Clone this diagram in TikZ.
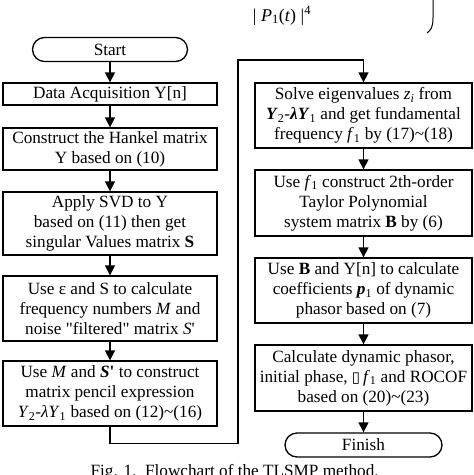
\documentclass[tikz,border=0pt]{standalone}
\usepackage{fontspec}
\setmainfont{Liberation Serif}
\newfontfamily\symfont{DejaVu Sans}
\usetikzlibrary{arrows.meta}

\begin{document}
\begin{tikzpicture}[x=1pt, y=-1pt, line width=1.3pt,
		box/.style={draw, inner sep=0pt, align=center, minimum width=214pt, font=\fontsize{17.2}{20}\selectfont},
		rbox/.style={box, minimum width=217pt},
		term/.style={draw, rounded corners=12pt, inner sep=0pt, minimum height=24pt, font=\fontsize{17.2}{20}\selectfont},
		arr/.style={-{Triangle[length=10pt, width=10pt]}}]
		\useasboundingbox (0,0) rectangle (474,475);
		
		% left column
		\node[term, minimum width=155pt] (start) at (110,49.5) {Start};
		\node[box, minimum height=22pt] (data) at (110,94) {Data Acquisition Y[n]};
		\node[box, minimum height=42pt] (hankel) at (110,149) {Construct the Hankel matrix\\Y based on (10)};
		\node[box, minimum height=63pt] (svd) at (110,223.5) {Apply SVD to Y\\based on (11) then get\\singular Values matrix \textbf{S}};
		\node[box, minimum height=65pt] (eps) at (110,308.5) {Use ε and S to calculate\\frequency numbers \textit{M} and\\noise \textquotedbl filtered\textquotedbl{} matrix \textit{S}\textquotesingle};
		\node[box, minimum height=65pt] (pencil) at (110,393.5) {Use \textit{M} and \textbf{\textit{S}\textquotesingle} to construct\\matrix pencil expression\\\textit{Y}\textsubscript{2}-\textit{λY}\textsubscript{1} based on (12)\textasciitilde(16)};
		
		% right column
		\node[rbox, minimum height=65pt] (solve) at (363.5,115.5) {Solve eigenvalues \textit{z}\textsubscript{\textit{i}} from\\\textbf{\textit{Y}}\textsubscript{2}-\textbf{\textit{λY}}\textsubscript{1} and get fundamental\\frequency \textit{f}\textsubscript{1} by (17)\textasciitilde(18)};
		\node[rbox, minimum height=66pt] (taylor) at (363.5,203) {Use \textit{f}\textsubscript{1} construct 2th-order\\Taylor Polynomial\\system matrix \textbf{B} by (6)};
		\node[rbox, minimum height=65pt] (coeff) at (363.5,290.5) {Use \textbf{B} and Y[n] to calculate\\coefficients \textbf{\textit{p}}\textsubscript{1} of dynamic\\phasor based on (7)};
		\node[rbox, minimum height=66pt] (phasor) at (363.5,378) {Calculate dynamic phasor,\\initial phase, {\symfont\fontsize{15}{16}\selectfont ▯}\,\textit{f}\textsubscript{1} and ROCOF\\based on (20)\textasciitilde(23)};
		\node[term, minimum width=157pt] (finish) at (363.5,445) {Finish};
		
		\draw[arr] (start) -- (data);
		\draw[arr] (data) -- (hankel);
		\draw[arr] (hankel) -- (svd);
		\draw[arr] (svd) -- (eps);
		\draw[arr] (eps) -- (pencil);
		\draw[arr] (pencil.south) -- ++(0,17) -| (238,60) -| (solve.north);
		\draw[arr] (solve) -- (taylor);
		\draw[arr] (taylor) -- (coeff);
		\draw[arr] (coeff) -- (phasor);
		\draw[arr] (phasor) -- (finish);
		
		% cut-off parts of the page
		\node[anchor=base, font=\fontsize{18}{20}\selectfont] (pabs) at (282,21) {|\ \textit{P}\textsubscript{1}(\textit{t})\ |\textsuperscript{4}};
		\draw[line width=1pt] (433,-2) -- (433,18) .. controls (433,27) and (431,30) .. (427,33);
		\node[anchor=base west, inner sep=0pt, font=\fontsize{17.2}{20}\selectfont] (caption) at (90,476) {Fig. 1.\ \ Flowchart of the TLSMP method.};
	\end{tikzpicture}
\end{document}
